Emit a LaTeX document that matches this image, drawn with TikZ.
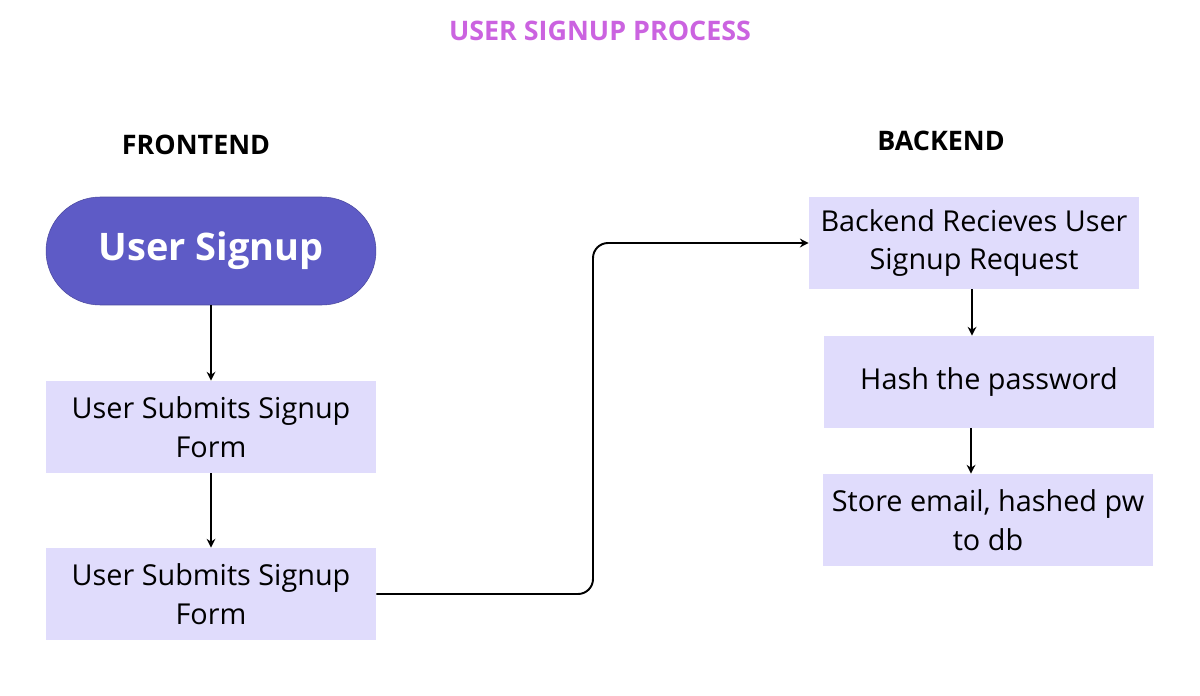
\documentclass[tikz,border=0pt]{standalone}
\usepackage{fontspec}
\setmainfont{Open Sans}
\usetikzlibrary{arrows.meta}
\definecolor{pillblue}{HTML}{5E5BC6}
\definecolor{boxlilac}{HTML}{E0DCFC}
\definecolor{titlepink}{HTML}{CB63E0}
\tikzset{
  stepbox/.style={fill=boxlilac, minimum width=6.6cm, minimum height=1.84cm,
    align=center, font=\fontsize{16.4}{22}\selectfont, inner sep=0pt},
  pill/.style={fill=pillblue, draw=pillblue!80!black, line width=0.3pt, rounded corners=1.08cm,
    minimum width=6.6cm, minimum height=2.16cm, text=white,
    font=\fontsize{21.6}{26}\selectfont\bfseries},
  head/.style={font=\fontsize{15.3}{17}\selectfont\bfseries},
  flow/.style={line width=1.1pt, -{Stealth[length=5pt,width=5pt]}}
}
\begin{document}
\begin{tikzpicture}[x=0.02cm, y=-0.02cm]
	\useasboundingbox (0,0) rectangle (1200,696);
	% headings
	\node[head, text=titlepink] (title) at (600,31) {USER SIGNUP PROCESS};
	\node[head] (front) at (196,145) {FRONTEND};
	\node[head] (back) at (941,141) {BACKEND};
	% frontend column
	\node[pill] (signup) at (211,251) {User Signup};
	\node[stepbox] (form1) at (211,427) {User Submits Signup\\Form};
	\node[stepbox] (form2) at (211,594) {User Submits Signup\\Form};
	% backend column
	\node[stepbox] (recv) at (974,243) {Backend Recieves User\\Signup Request};
	\node[stepbox] (hash) at (989,382) {Hash the password};
	\node[stepbox] (store) at (988,520) {Store email, hashed pw\\to db};
	\coordinate (turn) at (593,400);
	% connectors
	\draw[flow] (signup) -- (form1);
	\draw[flow] (form1) -- (form2);
	\draw[flow, rounded corners=0.3cm] (form2.east) -| (turn) |- (recv.west);
	\draw[flow] (recv.south -| 972,0) -- (hash.north -| 972,0);
	\draw[flow] (hash.south -| 971,0) -- (store.north -| 971,0);
\end{tikzpicture}
\end{document}
